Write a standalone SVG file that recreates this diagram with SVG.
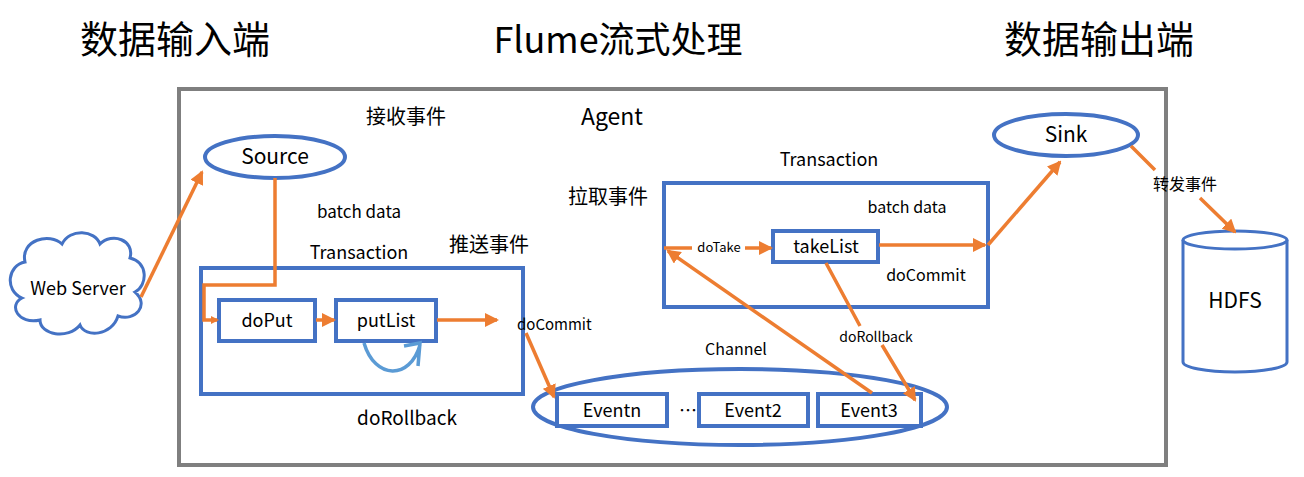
<svg xmlns="http://www.w3.org/2000/svg" width="1304" height="477" viewBox="0 0 1304 477">
<defs>
<marker id="ah" markerWidth="8" markerHeight="8" refX="6" refY="4" orient="auto" markerUnits="userSpaceOnUse" viewBox="0 0 8 8"><path d="M0,0 L8,4 L0,8 z" fill="#ed7d31"/></marker>
<marker id="ahb" markerWidth="14" markerHeight="14" refX="12" refY="7" orient="auto" markerUnits="userSpaceOnUse"><path d="M0,0 L14,7 L0,14 z" fill="#ed7d31"/></marker>
<style>
.t{font-family:"Noto Sans CJK SC","Noto Sans",sans-serif;fill:#000}
.b{fill:#fff;stroke:#4472c4;stroke-width:4}
.o{fill:none;stroke:#ed7d31;stroke-width:3.5}
</style>
</defs>
<rect width="1304" height="477" fill="#fff"/>
<text class="t" x="175" y="53" font-size="38" text-anchor="middle">数据输入端</text>
<text class="t" x="618" y="53" font-size="36" text-anchor="middle">Flume流式处理</text>
<text class="t" x="1099" y="53" font-size="38" text-anchor="middle">数据输出端</text>
<g id="agent"><rect x="179" y="89" width="987" height="376" fill="none" stroke="#7f7f7f" stroke-width="4"/>
<text class="t" x="612" y="125" font-size="23" text-anchor="middle">Agent</text>
<text class="t" x="406" y="124" font-size="20" text-anchor="middle">接收事件</text></g>
<g id="webserver"><path d="M25,262 C20,240 50,232 62,244 C70,228 95,230 100,244 C112,232 135,240 130,258 C148,262 148,285 135,292 C150,305 135,322 118,316 C112,336 85,338 80,325 C68,340 40,335 40,320 C18,325 8,305 22,298 C4,290 8,265 25,262 Z" fill="#fff" stroke="#4472c4" stroke-width="3"/>
<text class="t" x="78" y="295" font-size="18" text-anchor="middle">Web Server</text></g>
<g id="source"><ellipse cx="275" cy="157" rx="70" ry="21" class="b" stroke-width="3"/><text class="t" x="275" y="164" font-size="21" text-anchor="middle">Source</text></g>
<g id="sink"><ellipse cx="1066" cy="135" rx="72" ry="21" class="b" stroke-width="3"/><text class="t" x="1066" y="142" font-size="21" text-anchor="middle">Sink</text></g>
<g id="hdfs"><path d="M1183,240 L1183,362 A52,10 0 0 0 1287,362 L1287,240" fill="#fff" stroke="#4472c4" stroke-width="3"/><ellipse cx="1235" cy="240" rx="52" ry="9" fill="#fff" stroke="#4472c4" stroke-width="3"/><text class="t" x="1235" y="308" font-size="21" text-anchor="middle">HDFS</text></g>
<g id="txLeft"><rect x="201" y="268" width="322" height="126" fill="none" stroke="#4472c4" stroke-width="4"/>
<text class="t" x="359" y="259" font-size="18" text-anchor="middle">Transaction</text>
<text class="t" x="489" y="252" font-size="20" text-anchor="middle">推送事件</text>
<text class="t" x="359" y="218" font-size="17" text-anchor="middle">batch data</text>
<text class="t" x="407" y="425" font-size="19" text-anchor="middle">doRollback</text></g>
<g id="doput"><rect x="219" y="300" width="96" height="41" class="b"/><text class="t" x="267" y="327" font-size="18" text-anchor="middle">doPut</text></g>
<g id="putlist"><rect x="336" y="300" width="100" height="41" class="b"/><text class="t" x="386" y="327" font-size="18" text-anchor="middle">putList</text></g>
<g id="txRight"><rect x="664" y="183" width="324" height="124" fill="none" stroke="#4472c4" stroke-width="4"/>
<text class="t" x="829" y="166" font-size="18" text-anchor="middle">Transaction</text>
<text class="t" x="608" y="204" font-size="20" text-anchor="middle">拉取事件</text>
<text class="t" x="907" y="213" font-size="16" text-anchor="middle">batch data</text>
<text class="t" x="926" y="281" font-size="16" text-anchor="middle">doCommit</text></g>
<g id="takelist"><rect x="773" y="231" width="105" height="31" class="b"/><text class="t" x="826" y="253" font-size="18" text-anchor="middle">takeList</text></g>
<g id="channel"><ellipse cx="740" cy="407" rx="207" ry="38" fill="#fff" stroke="#4472c4" stroke-width="4"/>
<text class="t" x="736" y="355" font-size="16" text-anchor="middle">Channel</text>
<text class="t" x="688" y="417" font-size="18" text-anchor="middle">…</text></g>
<g id="eventn"><rect x="557" y="394" width="110" height="32" class="b" stroke-width="3.5"/><text class="t" x="612" y="417" font-size="18" text-anchor="middle">Eventn</text></g>
<g id="event2"><rect x="699" y="394" width="109" height="32" class="b" stroke-width="3.5"/><text class="t" x="753" y="417" font-size="18" text-anchor="middle">Event2</text></g>
<g id="event3"><rect x="818" y="394" width="103" height="32" class="b" stroke-width="3.5"/><text class="t" x="869" y="417" font-size="18" text-anchor="middle">Event3</text></g>
<g id="connectors">
<path class="o" d="M141,297 L202,172" marker-end="url(#ahb)"/>
<path class="o" d="M275,178 L275,285 L204,285 L204,320 L217,320" marker-end="url(#ah)"/>
<path class="o" d="M316,320 L334,320" marker-end="url(#ahb)"/>
<path class="o" d="M437,320 L497,320" marker-end="url(#ahb)"/>
<text class="t" x="517" y="330" font-size="15">doCommit</text>
<path class="o" d="M526,333 L554,397" marker-end="url(#ahb)"/>
<path d="M364,343 C375,380 410,380 420,345 M404,346 L420,343 L418,366" fill="none" stroke="#5b9bd5" stroke-width="3.5"/>
<path class="o" d="M664,248 L692,248 M745,248 L771,248" marker-end="url(#ahb)"/>
<text class="t" x="719" y="252" font-size="13" text-anchor="middle">doTake</text>
<path class="o" d="M872,393 L668,251" marker-end="url(#ahb)"/>
<path class="o" d="M879,245 L985,245" marker-end="url(#ahb)"/>
<path class="o" d="M988,245 L1060,162" marker-end="url(#ahb)"/>
<path class="o" d="M826,263 L860,326 M882,345 L915,400" marker-end="url(#ahb)"/>
<text class="t" x="876" y="342" font-size="14" text-anchor="middle">doRollback</text>
<path class="o" d="M1131,146 L1155,170 M1200,198 L1235,232" marker-end="url(#ahb)"/>
<text class="t" x="1185" y="190" font-size="16" text-anchor="middle">转发事件</text>
</g>
</svg>
